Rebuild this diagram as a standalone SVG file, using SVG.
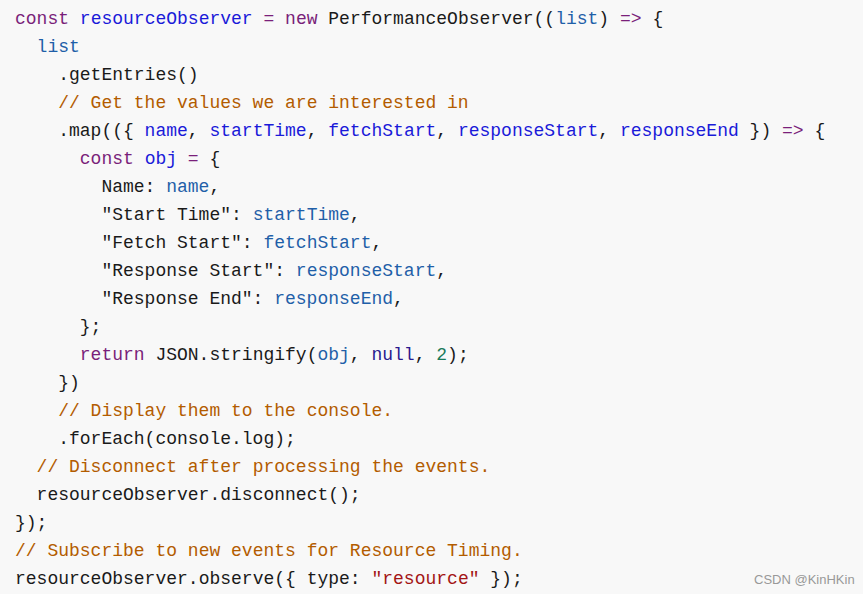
<svg xmlns="http://www.w3.org/2000/svg" width="863" height="594" viewBox="0 0 863 594">
<style>
.c{font-family:"Liberation Mono","DejaVu Sans Mono",monospace;font-size:18px;fill:#1a1a1a;white-space:pre}
.k{fill:#7a1f7a}.v{fill:#1a1ad9}.p{fill:#1f5fa8}.m{fill:#b35c00}.s{fill:#a31515}.n{fill:#1a7a5a}.u{fill:#2a1a8f}
.w{font-family:"Liberation Sans",Arial,sans-serif;font-size:13px;fill:#999}
</style>
<rect width="863" height="594" fill="#f8f8f8"/>
<g id="code" class="c" xml:space="preserve">
<text x="15" y="24"><tspan class="k">const</tspan> <tspan class="v">resourceObserver</tspan> <tspan class="k">=</tspan> <tspan class="k">new</tspan> PerformanceObserver((<tspan class="p">list</tspan>) <tspan class="k">=&gt;</tspan> {</text>
<text x="36.6" y="52"><tspan class="p">list</tspan></text>
<text x="58.2" y="80">.getEntries()</text>
<text x="58.2" y="108" class="m">// Get the values we are interested in</text>
<text x="58.2" y="136">.map(({ <tspan class="v">name</tspan>, <tspan class="v">startTime</tspan>, <tspan class="v">fetchStart</tspan>, <tspan class="v">responseStart</tspan>, <tspan class="v">responseEnd</tspan> }) <tspan class="k">=&gt;</tspan> {</text>
<text x="79.8" y="164"><tspan class="k">const</tspan> <tspan class="v">obj</tspan> <tspan class="k">=</tspan> {</text>
<text x="101.4" y="192">Name: <tspan class="p">name</tspan>,</text>
<text x="101.4" y="220">"Start Time": <tspan class="p">startTime</tspan>,</text>
<text x="101.4" y="248">"Fetch Start": <tspan class="p">fetchStart</tspan>,</text>
<text x="101.4" y="276">"Response Start": <tspan class="p">responseStart</tspan>,</text>
<text x="101.4" y="304">"Response End": <tspan class="p">responseEnd</tspan>,</text>
<text x="79.8" y="332">};</text>
<text x="79.8" y="360"><tspan class="k">return</tspan> JSON.stringify(<tspan class="p">obj</tspan>, <tspan class="u">null</tspan>, <tspan class="n">2</tspan>);</text>
<text x="58.2" y="388">})</text>
<text x="58.2" y="416" class="m">// Display them to the console.</text>
<text x="58.2" y="444">.forEach(console.log);</text>
<text x="36.6" y="472" class="m">// Disconnect after processing the events.</text>
<text x="36.6" y="500">resourceObserver.disconnect();</text>
<text x="15" y="528">});</text>
<text x="15" y="556" class="m">// Subscribe to new events for Resource Timing.</text>
<text x="15" y="584">resourceObserver.observe({ type: <tspan class="s">"resource"</tspan> });</text>
</g>
<text class="w" x="754" y="584">CSDN @KinHKin</text>
</svg>
